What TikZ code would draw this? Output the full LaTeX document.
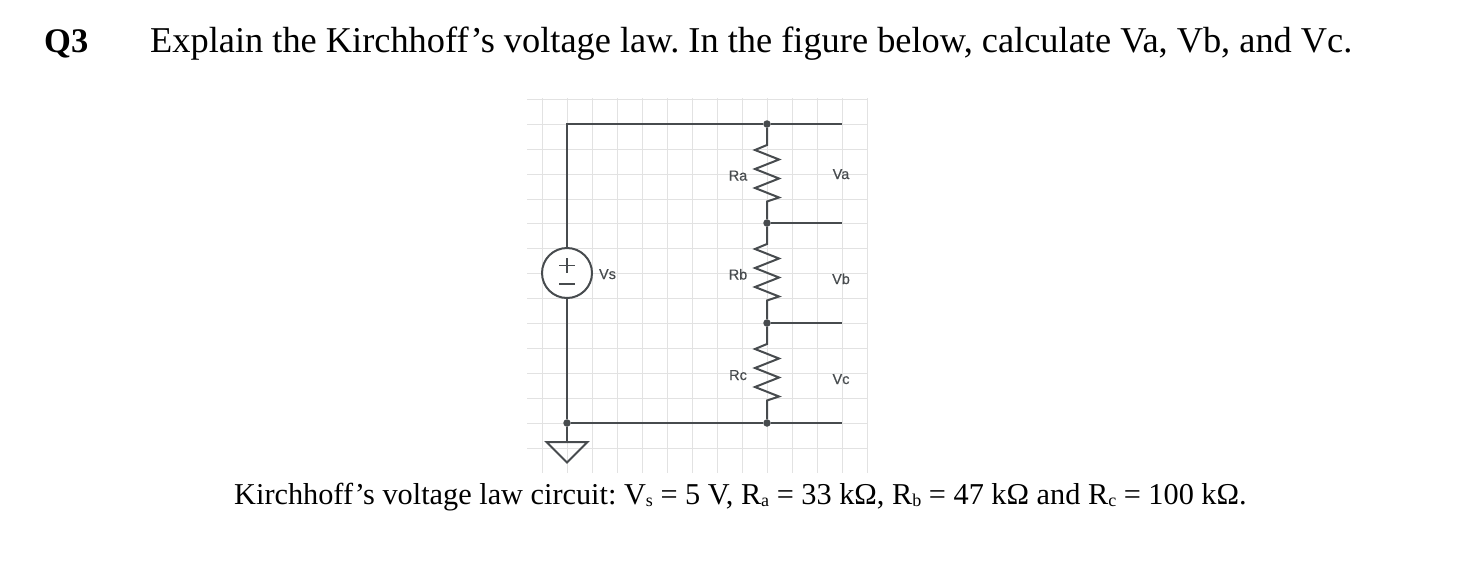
\documentclass[tikz,border=0pt]{standalone}
\usepackage{fontspec}
\setmainfont{Liberation Serif}
\newfontfamily\labelfont[FakeBold=0.4]{Liberation Sans}
\usetikzlibrary{positioning}
\definecolor{wirecol}{HTML}{474B4E}
\definecolor{gridcol}{HTML}{E2E2E2}
\newcommand{\subs}[1]{\raisebox{-0.08em}{\fontsize{18}{18}\selectfont #1}}
\frenchspacing

\begin{document}
\begin{tikzpicture}[
		x=1pt, y=-1pt,
		wire/.style   = {draw=wirecol, line width=2pt},
		dot/.style    = {circle, fill=wirecol, inner sep=0pt, minimum size=7.5pt},
		source/.style = {circle, draw=wirecol, line width=2pt, fill=white, inner sep=0pt, minimum size=50pt},
		part/.style   = {anchor=base, font=\labelfont\fontsize{14.5}{15}\selectfont, text=wirecol},
		title/.style  = {anchor=base west, inner sep=0pt, font=\fontsize{36.36}{40}\selectfont},
		caption/.style = {anchor=base west, inner sep=0pt, font=\fontsize{30.3}{36}\selectfont}]

		\useasboundingbox (0,0) rectangle (1464,571);

		% background grid
		\foreach \x in {542,567,...,867}
		\draw[gridcol] (\x,98) -- (\x,473);
		\foreach \y in {99,124,149,174,199,223,248,273,298,323,348,373,398,423,448}
		\draw[gridcol] (527,\y) -- (868,\y);

		% question text
		\node[title, font=\bfseries\fontsize{34.5}{40}\selectfont] (qnum) at (44,52) {Q3};
		\node[title] (qtext) at (150,52) {Explain the Kirchhoff’s voltage law. In the figure below, calculate Va, Vb, and Vc.};
		\node[caption] (qcap) at (234,504) {Kirchhoff’s voltage law circuit: V\subs{s} = 5 V, R\subs{a} = 33 kΩ, R\subs{b} = 47 kΩ and R\subs{c} = 100 kΩ.};

		% junctions and free ends
		\coordinate (corner) at (567,124);
		\node[dot] (j1) at (767,124) {};
		\node[dot] (j2) at (767,223) {};
		\node[dot] (j3) at (767,323) {};
		\node[dot] (j4) at (767,423) {};
		\node[dot] (j0) at (567,423) {};
		\coordinate (e1) at (842,124);
		\coordinate (e2) at (842,223);
		\coordinate (e3) at (842,323);
		\coordinate (e4) at (842,423);
		\coordinate (gnd) at (567,442);
		\node[source] (vs) at (567,273) {};

		% wires
		\draw[wire] (vs.north) -- (corner) -- (j1) -- (e1);
		\draw[wire] (j2) -- (e2);
		\draw[wire] (j3) -- (e3);
		\draw[wire] (vs.south) -- (j0) -- (j4) -- (e4);
		\draw[wire] (j0) -- (gnd);
		\draw[wire, line join=miter] (gnd) ++(-20.5,0) -- ++(41,0) -- ++(-20.5,20.5) -- cycle;

		% resistors
		\foreach \a/\b in {j1/j2,j2/j3,j3/j4}
		\draw[wire, line join=miter] (\a) -- ++(0,21) -- ++(-12,5) -- ++(24,9.5) -- ++(-24,9.5) -- ++(24,9.5) -- ++(-24,9.5) -- ++(24,9.5) -- ++(-12,4) -- (\b);

		% source signs
		\draw[wire, line width=1.3pt] (vs.center) ++(0,-15) -- ++(0,15);
		\draw[wire, line width=1.3pt] (vs.center) ++(-8,-7.5) -- ++(16,0);
		\draw[wire, line width=1.3pt] (vs.center) ++(-8,11) -- ++(16,0);

		% labels
		\node[part] (vsl) at (607.5,279) {Vs};
		\node[part] (ra) at (738,180.5) {Ra};
		\node[part] (rb) at (738,279.5) {Rb};
		\node[part] (rc) at (738,380) {Rc};
		\node[part] (va) at (841,179) {Va};
		\node[part] (vb) at (841,284) {Vb};
		\node[part] (vc) at (841,384) {Vc};
	\end{tikzpicture}
\end{document}
